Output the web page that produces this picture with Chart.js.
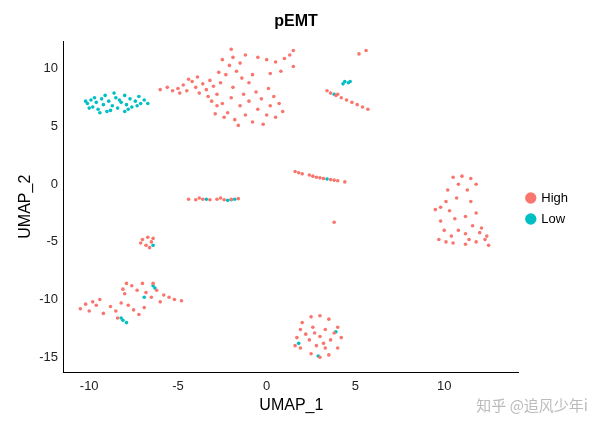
<!DOCTYPE html>
<html><head><meta charset="utf-8">
<script src="https://cdn.jsdelivr.net/npm/chart.js@4/dist/chart.umd.min.js"></script>
<style>body{margin:0;background:#fff}#w{position:relative;width:600px;height:429px}
#wm{position:absolute;right:12px;bottom:14px;font:15px "Noto Sans CJK SC";color:#bbb}</style>
</head><body><div id="w"><canvas id="c" width="600" height="429"></canvas><div id="wm">知乎 @追风少年i</div></div>
<script>
const seriesNames=["High","Low"];
const highXY=[
-5,8.3,-4.7,8.6,-4.5,8.1,-4.2,8.9,-4,8.4,-3.8,7.9,-3.6,8.7,-3.4,8.2,-3.2,9,-3,8.5,-2.8,7.8,-2.6,8.8,-4.9,7.9,-4.4,9.1,-3.9,9.3,-3.3,7.6,-5.3,8.1,-5.6,8.4,-6,8.2,
-2.5,7,-2.2,6.2,-2,7.5,-1.8,5.6,-1.5,6.8,-1.2,6,-1,7.2,-0.8,5.4,-0.5,6.5,-0.3,7.4,0,6,0.2,6.8,0.5,5.8,0.7,7,-1.6,5.1,-2.4,5.8,-2.8,6.8,-1.3,7.8,-0.6,8,0.1,8.3,0.4,7.6,-0.2,5.2,-2.9,6.1,-1.9,8.4,-1,8.8,0.9,6.3,-3.1,7.2,
-2.3,9.5,-2.1,10.3,-1.9,11,-2,11.7,-1.7,9.8,-2.5,10.8,-1.5,10.5,-1.2,11.2,-0.5,11,0,10.8,0.5,10.6,1,10.9,1.3,11.2,1.5,10.2,0.8,9.8,-0.8,9.5,-1.4,9.2,-2.7,9.7,1.5,11.6,0.2,9.6,
3.6,7.9,3.9,7.7,4.2,7.5,4.5,7.3,4.8,7.1,5.1,6.9,5.4,6.7,5.7,6.5,3.4,8.1,5.2,11.3,5.6,11.6,4.0,7.8,
1.6,1.1,2,0.9,2.4,0.8,2.8,0.6,3.2,0.5,3.6,0.4,4,0.3,4.4,0.2,1.8,1,3,0.55,3.8,0.35,2.6,0.7,3.8,-3.3,
-4.4,-1.3,-4,-1.35,-3.6,-1.3,-3.2,-1.35,-2.8,-1.3,-2.4,-1.35,-2,-1.3,-1.6,-1.25,-3.8,-1.2,-2.6,-1.2,
10.5,0.6,11,0.7,11.5,0.5,11.8,0,10.8,0,11.3,-0.5,10.2,-0.5,10.1,-1.5,9.8,-2,10.3,-2.3,10.7,-1.2,11.5,-1.5,11.8,-2.5,11.2,-2.8,10.6,-3,9.8,-3.2,10,-4,10.4,-4.5,9.7,-4.8,10.8,-4,11.2,-4.3,11.6,-3.6,12,-4.2,12.3,-4.8,12.5,-5.3,11.8,-5,11.2,-5.2,10.5,-5.1,10.1,-5,12.1,-3.8,9.5,-2.2,11.4,-4.8,12.4,-4.5,
-7,-4.8,-6.7,-4.6,-6.5,-5,-6.8,-5.3,-6.4,-4.7,-7.1,-5.1,-6.6,-5.5,
-10.5,-10.8,-10,-11,-9.6,-10.5,-9.2,-11.2,-8.8,-10.6,-8.5,-11,-8.2,-10.3,-8,-9.5,-7.6,-8.8,-7.3,-9.2,-7,-8.6,-6.8,-9.4,-6.5,-9.8,-6.2,-9.2,-5.8,-9.6,-5.5,-9.8,-5.2,-10,-4.8,-10.1,-7.8,-10.5,-7.5,-10.9,-7.2,-11.3,-6.9,-10.7,-9.8,-10.2,-8.4,-11.6,-6,-10.2,-7.9,-8.6,-8.1,-9.1,-6.4,-8.6,-9.4,-10.0,-10.2,-10.4,
2,-12,2.5,-11.5,3,-11.4,3.5,-11.7,4,-12.4,4.2,-13.3,4,-14.2,3.5,-14.8,3,-15,2.5,-14.7,1.9,-14.2,1.7,-13.3,1.9,-12.6,2.6,-12.4,3.3,-12.6,2.4,-13.5,3,-13.2,3.6,-13.5,2.8,-14,3.3,-14.2,2.2,-13,3.8,-12.9,2.7,-12.9,3.2,-13.8,1.6,-14];
const lowXY=[
-10.1,7,-9.9,7.3,-9.8,6.7,-9.6,7.1,-9.5,6.5,-9.3,7.4,-9.2,6.9,-9,6.3,-8.9,7.2,-8.7,6.8,-8.5,7.5,-8.4,6.6,-8.2,7.1,-8,7.7,-7.9,6.9,-7.7,7.4,-7.6,6.7,-7.4,7.2,-7.2,7.6,-7.1,7,-8.6,7.9,-9.4,6.2,-8.8,6.4,-9.7,7.5,-7.8,6.5,-8.3,7.3,-10,6.6,-7.3,6.8,-9.1,7.7,-8,6.3,-6.9,7.3,-6.7,7.0,-10.2,7.2,
4.4,8.9,4.6,8.8,4.3,8.7,4.7,8.9,3.8,7.8,3.4,0.45,
-3.4,-1.3,-2.2,-1.4,-2,-1.35,-1.8,-1.3,-6.4,-5.3,
-8.1,-11.8,-7.9,-12,-8.2,-11.6,-6.4,-8.8,-6.3,-9,-6.9,-9.8,
2.9,-14.9,1.8,-13.8,3.9,-12.8];
const xTicks=[-10,-5,0,5,10], yTicks=[-15,-10,-5,0,5,10];
const toPts=a=>{const r=[];for(let i=0;i<a.length;i+=2)r.push({x:a[i],y:a[i+1]});return r;};
const tickFont={family:"Liberation Sans",size:13};
new Chart(document.getElementById('c'),{type:'scatter',
data:{datasets:[
{label:seriesNames[0],data:toPts(highXY),backgroundColor:'#F8766D',borderWidth:0,pointRadius:1.8},
{label:seriesNames[1],data:toPts(lowXY),backgroundColor:'#00BFC4',borderWidth:0,pointRadius:1.8}]},
options:{responsive:false,animation:false,
layout:{padding:{left:14,right:22,top:2,bottom:14}},
plugins:{title:{display:true,text:'pEMT',font:{family:"Liberation Sans",size:16,weight:'bold'},color:'#000',padding:{top:10,bottom:10}},
legend:{position:'right',labels:{usePointStyle:true,pointStyle:'circle',boxWidth:8,boxHeight:8,font:{family:"Liberation Sans",size:13},color:'#000',padding:8}},tooltip:{enabled:false}},
scales:{
x:{min:-11.42,max:14.2,afterBuildTicks:s=>{s.ticks=xTicks.map(v=>({value:v}));},grid:{display:false,drawTicks:true,tickLength:4,tickColor:'#000'},border:{color:'#000',width:1},ticks:{color:'#222',font:tickFont,padding:2},title:{display:true,text:'UMAP_1',color:'#000',font:{family:"Liberation Sans",size:16},padding:0}},
y:{min:-16.3,max:12.4,afterBuildTicks:s=>{s.ticks=yTicks.map(v=>({value:v}));},grid:{display:false,tickLength:4,tickColor:'#000'},border:{color:'#000',width:1},ticks:{color:'#222',font:tickFont,padding:2},title:{display:true,text:'UMAP_2',color:'#000',font:{family:"Liberation Sans",size:16},padding:2}}}}});
</script></body></html>
